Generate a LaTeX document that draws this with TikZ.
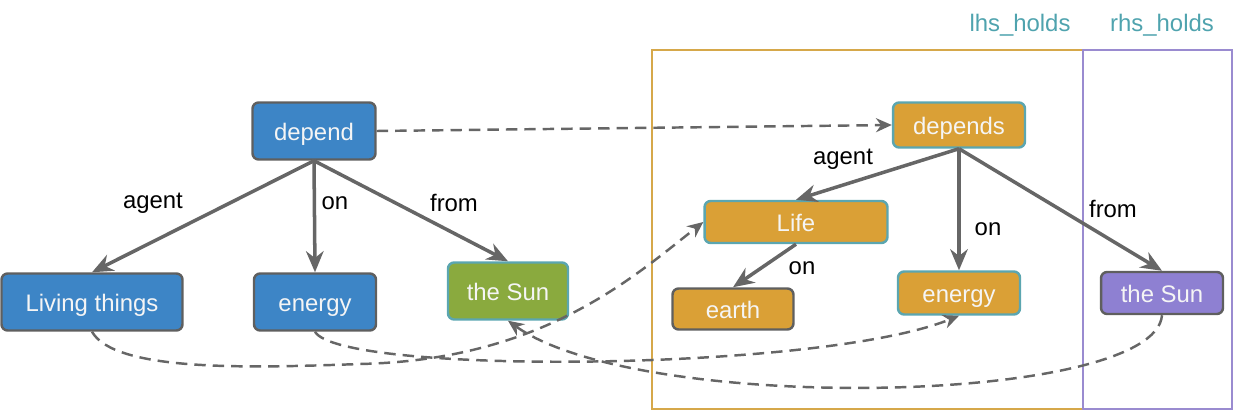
\documentclass[tikz,border=0pt]{standalone}
\usepackage{fontspec}
\setmainfont{Liberation Sans}
\usepackage{xcolor}
\definecolor{node-blue}{HTML}{3D85C6}
\definecolor{node-green}{HTML}{8AAA3E}
\definecolor{node-orange}{HTML}{DAA036}
\definecolor{node-purple}{HTML}{8E80D2}
\definecolor{rim-gray}{HTML}{5F5F5F}
\definecolor{rim-teal}{HTML}{5BA6B0}
\definecolor{link-gray}{HTML}{666666}
\definecolor{lhs-frame}{HTML}{D6A84A}
\definecolor{rhs-frame}{HTML}{9A8BD0}
\definecolor{label-teal}{HTML}{4FA3AE}
\usetikzlibrary{arrows.meta}

\begin{document}
\begin{tikzpicture}[
	x=0.02cm, y=-0.02cm,
	>={Stealth[length=12pt,width=10pt]},
	font=\fontsize{13.6}{16}\selectfont,
	concept/.style={draw=rim-gray, line width=1.4pt, rounded corners=3.5pt,
		text=white!96!black, inner sep=0pt, text height=2ex, text depth=0pt},
	rel/.style={->, line width=2pt, draw=link-gray},
	match/.style={-{Stealth[length=9pt,width=8pt]}, line width=1.4pt,
		draw=link-gray, dash pattern=on 6.5pt off 4pt}
	]
	
	\useasboundingbox (0,0) rectangle (1245,412);
	
	% holds frames
	\draw[lhs-frame, line width=1.3pt] (652,50) rectangle (1083,409);
	\draw[rhs-frame, line width=1.3pt] (1083,50) rectangle (1232,409);
	\node[text=label-teal] (lhs-label) at (1020,25) {lhs\_holds};
	\node[text=label-teal] (rhs-label) at (1162,25) {rhs\_holds};
	
	% left graph
	\node[concept, fill=node-blue, minimum width=2.46cm, minimum height=1.14cm]
		(depend) at (314,131) {depend};
	\node[concept, fill=node-blue, minimum width=3.62cm, minimum height=1.14cm]
		(living) at (92,302) {Living things};
	\node[concept, fill=node-blue, minimum width=2.44cm, minimum height=1.14cm]
		(energy-l) at (315,302) {energy};
	\node[concept, fill=node-green, draw=rim-teal, minimum width=2.40cm, minimum height=1.14cm]
		(sun-l) at (508,291) {the Sun};
	
	% right graph
	\node[concept, fill=node-orange, draw=rim-teal, minimum width=2.64cm, minimum height=0.90cm]
		(depends) at (959,125) {depends};
	\node[concept, fill=node-orange, draw=rim-teal, minimum width=3.66cm, minimum height=0.84cm]
		(life) at (796,222) {Life};
	\node[concept, fill=node-orange, minimum width=2.42cm, minimum height=0.82cm]
		(earth) at (733,309) {earth};
	\node[concept, fill=node-orange, draw=rim-teal, minimum width=2.44cm, minimum height=0.86cm]
		(energy-r) at (959,293) {energy};
	\node[concept, fill=node-purple, minimum width=2.44cm, minimum height=0.84cm]
		(sun-r) at (1162,293) {the Sun};
	
	\draw[rel] (depend.south) -- (living.north);
	\draw[rel] (depend.south) -- (energy-l.north);
	\draw[rel] (depend.south) -- (sun-l.north);
	\draw[rel] (depends.south) -- (life.north);
	\draw[rel] (depends.south) -- (energy-r.north);
	\draw[rel] (depends.south) -- (sun-r.north);
	\draw[rel] (life.south) -- (earth.north);
	
	\node (agent-l) at (153,203) {agent};
	\node (on-l)    at (335,203) {on};
	\node (from-l)  at (454,203) {from};
	\node (agent-r) at (843,159) {agent};
	\node (on-life) at (802,268) {on};
	\node (on-r)    at (988,229) {on};
	\node (from-r)  at (1113,209) {from};
	
	% alignment links
	\draw[match] (depend.east) -- (depends.west);
	\draw[match] (living.south) .. controls (115,372) and (250,368) .. (360,364)
		.. controls (540,360) and (630,280) .. (life.west);
	\draw[match] (energy-l.south) .. controls (340,375) and (820,372) .. (energy-r.south);
	\draw[match] (sun-r.south) .. controls (1155,405) and (640,415) .. (sun-l.south);
\end{tikzpicture}
\end{document}
